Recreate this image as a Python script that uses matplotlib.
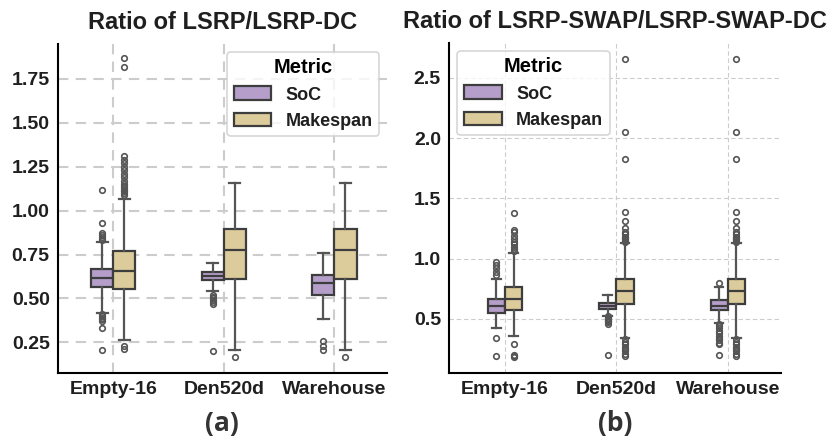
import matplotlib
matplotlib.use("Agg")
import matplotlib.pyplot as plt
from matplotlib.patches import Patch

plt.rcParams['font.family'] = ['Liberation Sans', 'DejaVu Sans']
plt.rcParams['font.weight'] = 'bold'

# data
categories = ["Empty-16", "Den520d", "Warehouse"]
metrics = ["SoC", "Makespan"]

# panel (a): LSRP / LSRP-DC   (whislo, q1, med, q3, whishi)
a_soc = [(0.419, 0.564, 0.615, 0.670, 0.820),
         (0.542, 0.602, 0.627, 0.650, 0.703),
         (0.385, 0.521, 0.589, 0.634, 0.756)]
a_mk = [(0.261, 0.555, 0.655, 0.769, 1.068),
        (0.206, 0.612, 0.778, 0.896, 1.155),
        (0.206, 0.612, 0.778, 0.896, 1.155)]
a_soc_fliers = [[0.83, 0.84, 0.85, 0.86, 0.87, 0.93, 1.115, 0.41, 0.40, 0.39, 0.38, 0.37, 0.33, 0.205],
                [0.52, 0.51, 0.50, 0.49, 0.48, 0.47, 0.20],
                [0.257, 0.23, 0.205]]
a_mk_fliers = [[1.09, 1.10, 1.11, 1.12, 1.13, 1.14, 1.15, 1.17, 1.19, 1.21, 1.23, 1.25, 1.27, 1.29, 1.31,
                1.82, 1.87, 0.23, 0.21],
               [0.165],
               [0.165]]

# panel (b): LSRP-SWAP / LSRP-SWAP-DC
b_soc = [(0.420, 0.550, 0.610, 0.668, 0.834),
         (0.522, 0.585, 0.610, 0.633, 0.696),
         (0.467, 0.572, 0.610, 0.652, 0.762)]
b_mk = [(0.356, 0.572, 0.663, 0.768, 1.047),
        (0.343, 0.624, 0.729, 0.832, 1.130),
        (0.343, 0.624, 0.729, 0.832, 1.130)]
b_soc_fliers = [[0.86, 0.89, 0.92, 0.95, 0.975, 0.34, 0.195],
                [0.52, 0.51, 0.50, 0.49, 0.48, 0.47, 0.46, 0.196],
                [0.80, 0.46, 0.44, 0.42, 0.40, 0.38, 0.36, 0.34, 0.32, 0.30, 0.29, 0.196]]
b_mk_fliers = [[1.06, 1.08, 1.10, 1.12, 1.14, 1.16, 1.19, 1.22, 1.24, 1.38, 0.29, 0.20, 0.19, 0.18],
               [1.14, 1.15, 1.16, 1.17, 1.18, 1.20, 1.22, 1.25, 1.31, 1.39, 1.83, 2.05, 2.66,
                0.33, 0.31, 0.29, 0.27, 0.25, 0.23, 0.21, 0.19],
               [1.14, 1.15, 1.16, 1.17, 1.18, 1.20, 1.22, 1.25, 1.31, 1.39, 1.83, 2.05, 2.66,
                0.33, 0.31, 0.29, 0.27, 0.25, 0.23, 0.21, 0.19]]

colors = ["#b59fca", "#dccb9b"]
edge = "#3d3d3d"
whisk = "#555555"
txt = "#1f1f1f"


def make_stats(five, fliers):
    out = []
    for (lo, q1, med, q3, hi), fl in zip(five, fliers):
        out.append(dict(whislo=lo, q1=q1, med=med, q3=q3, whishi=hi, fliers=fl))
    return out


def draw_panel(ax, soc, soc_fl, mk, mk_fl, width):
    x = range(len(categories))
    for k, (five, fl) in enumerate([(soc, soc_fl), (mk, mk_fl)]):
        off = (k - 0.5) * width
        pos = [i + off for i in x]
        ax.bxp(make_stats(five, fl), positions=pos, widths=width, capwidths=width / 2,
               patch_artist=True, showfliers=True, manage_ticks=False,
               boxprops=dict(facecolor=colors[k], edgecolor=edge, linewidth=1.6),
               medianprops=dict(color=edge, linewidth=1.6),
               whiskerprops=dict(color=whisk, linewidth=1.6),
               capprops=dict(color=whisk, linewidth=1.6),
               flierprops=dict(marker='o', markersize=4, markerfacecolor='none',
                               markeredgecolor=whisk, markeredgewidth=1.2))
    ax.set_xticks(list(x))
    ax.set_xticklabels(categories, fontsize=14, fontweight='bold', color=txt)
    ax.set_xlim(-0.5, 2.48)
    for s in ['top', 'right']:
        ax.spines[s].set_visible(False)
    for s in ['left', 'bottom']:
        ax.spines[s].set_color('black')
        ax.spines[s].set_linewidth(1.5)
    ax.tick_params(axis='both', length=0, pad=6)
    ax.set_axisbelow(True)


fig = plt.figure(figsize=(8.32, 4.43), dpi=100)
ax1 = fig.add_axes([0.0697, 0.158, 0.396, 0.743])
ax2 = fig.add_axes([0.540, 0.158, 0.399, 0.745])

draw_panel(ax1, a_soc, a_soc_fliers, a_mk, a_mk_fliers, 0.2)
ax1.set_ylim(0.075, 1.95)
ax1.set_yticks([0.25, 0.5, 0.75, 1.0, 1.25, 1.5, 1.75])
ax1.set_yticklabels([f"{v:.2f}" for v in [0.25, 0.5, 0.75, 1.0, 1.25, 1.5, 1.75]],
                    fontsize=14, fontweight='bold', color=txt)
ax1.grid(True, color='#cccccc', linestyle=(0, (5, 3.5)), linewidth=1.5)
ax1.set_title("Ratio of LSRP/LSRP-DC", fontsize=17, fontweight='bold', color=txt, pad=11)

draw_panel(ax2, b_soc, b_soc_fliers, b_mk, b_mk_fliers, 0.155)
ax2.set_ylim(0.05, 2.79)
ax2.set_yticks([0.5, 1.0, 1.5, 2.0, 2.5])
ax2.set_yticklabels([f"{v:.1f}" for v in [0.5, 1.0, 1.5, 2.0, 2.5]],
                    fontsize=14, fontweight='bold', color=txt)
ax2.grid(True, color='#cccccc', linestyle=(0, (4, 2.5)), linewidth=0.8)
ax2.set_title("Ratio of LSRP-SWAP/LSRP-SWAP-DC", fontsize=17, fontweight='bold', color=txt, pad=11)

handles = [Patch(facecolor=colors[k], edgecolor=edge, linewidth=1.6, label=metrics[k]) for k in range(2)]
for ax, loc in [(ax1, 'upper right'), (ax2, 'upper left')]:
    leg = ax.legend(handles=handles, loc=loc, title="Metric", fontsize=13,
                    title_fontproperties=dict(weight='bold', size=14.5),
                    handlelength=2.1, handleheight=0.8, borderpad=0.35,
                    labelspacing=0.5, frameon=True, fancybox=True, borderaxespad=0.45)
    leg.get_frame().set_edgecolor('#cccccc')
    leg.get_frame().set_linewidth(1.2)
    for t in leg.get_texts():
        t.set_fontweight('bold')
        t.set_color(txt)

fig.text(0.267, 0.045, "(a)", ha='center', va='center', fontsize=19, fontweight='bold',
         color='#333333', family=['Open Sans', 'DejaVu Sans'])
fig.text(0.739, 0.045, "(b)", ha='center', va='center', fontsize=19, fontweight='bold',
         color='#333333', family=['Open Sans', 'DejaVu Sans'])

fig.savefig("out.png", dpi=100)
